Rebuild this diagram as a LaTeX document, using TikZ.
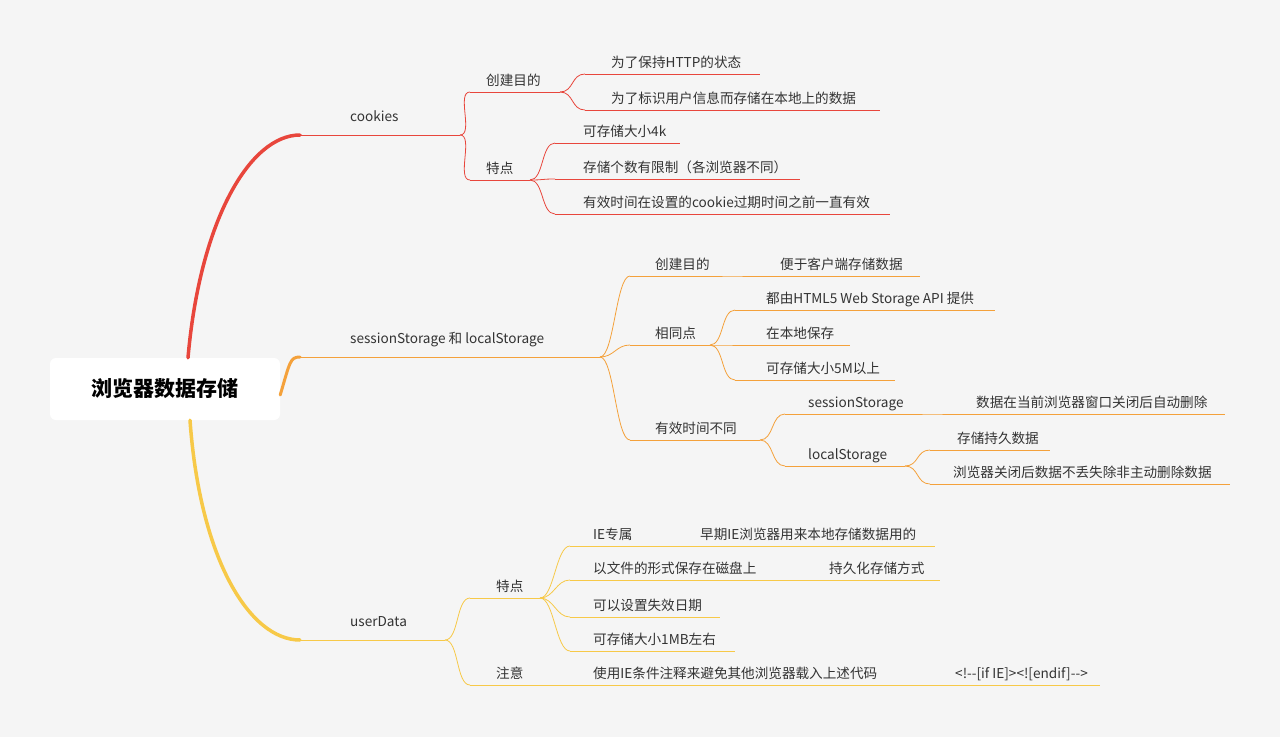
\documentclass[tikz,border=0pt]{standalone}
\usepackage{fontspec}
\setmainfont{Noto Sans CJK SC}
\usetikzlibrary{positioning}
\definecolor{bred}{HTML}{E8463C}
\definecolor{borange}{HTML}{F4A13B}
\definecolor{byellow}{HTML}{F7C948}
\definecolor{txt}{HTML}{333333}
\tikzset{
  lbl/.style={inner sep=0pt,text=txt,font=\fontsize{13.6}{16}\selectfont},
  br/.style={draw=bred,line width=0.8pt},
}
% underline topic: name, x1, x2, y, text x, text
\newcommand\topic[6]{%
  \coordinate (#1-l) at (#2,#4); \coordinate (#1-r) at (#3,#4);
  \draw[br] (#1-l) -- (#1-r);
  \node[lbl,anchor=base west] (#1) at (#5,#4-7) {#6};}
\newcommand\link[2]{\draw[br] (#1-r) .. controls +(14,0) and +(-14,0) .. (#2-l);}
\begin{document}
\begin{tikzpicture}[x=1pt,y=-1pt]
  \fill[white!96!black] (0,0) rectangle (1280,737);
  \useasboundingbox (0,0) rectangle (1280,737);
  \node[fill=white,rounded corners=6pt,minimum width=230pt,minimum height=62pt,
        text=black,font=\fontsize{21}{25}\selectfont\bfseries] (root) at (165,389) {浏览器数据存储};
  % cookies
  \begin{scope}[br/.style={draw=bred,line width=0.8pt}]
    \coordinate (ck-l) at (300,135); \coordinate (ck-r) at (460,135);
    \draw[bred,line width=3.5pt,line cap=round] ([xshift=23]root.north) .. controls (200,220) and (250,135) .. (ck-l);
    \draw[br] (ck-l) -- (ck-r);
    \node[lbl,anchor=base west] (ck) at (350,121) {cookies};
    \topic{ck1}{470}{560}{92}{486}{创建目的}
    \topic{ck11}{585}{760}{74}{611}{为了保持HTTP的状态}
    \topic{ck12}{585}{880}{110}{611}{为了标识用户信息而存储在本地上的数据}
    \topic{ck2}{470}{530}{180}{486}{特点}
    \topic{ck21}{555}{680}{143}{583}{可存储大小4k}
    \topic{ck22}{555}{800}{179}{583}{存储个数有限制（各浏览器不同）}
    \topic{ck23}{555}{890}{214}{583}{有效时间在设置的cookie过期时间之前一直有效}
    \link{ck}{ck1} \link{ck}{ck2}
    \link{ck1}{ck11} \link{ck1}{ck12}
    \link{ck2}{ck21} \link{ck2}{ck22} \link{ck2}{ck23}
  \end{scope}
  % sessionStorage / localStorage
  \begin{scope}[br/.style={draw=borange,line width=0.8pt}]
    \coordinate (ss-l) at (300,357); \coordinate (ss-r) at (600,357);
    \draw[borange,line width=3pt,line cap=round] ([yshift=-6]root.east) .. controls (290,362) and (290,357) .. (ss-l);
    \draw[br] (ss-l) -- (ss-r);
    \node[lbl,anchor=base west] (ss) at (350,343) {sessionStorage 和 localStorage};
    \topic{ss1}{630}{720}{276}{655}{创建目的}
    \topic{ss11}{745}{920}{276}{780}{便于客户端存储数据}
    \topic{ss2}{630}{710}{345}{655}{相同点}
    \topic{ss21}{735}{995}{310}{766}{都由HTML5 Web Storage API 提供}
    \topic{ss22}{735}{850}{345}{766}{在本地保存}
    \topic{ss23}{735}{895}{380}{766}{可存储大小5M以上}
    \topic{ss3}{630}{760}{440}{655}{有效时间不同}
    \topic{ss31}{785}{920}{414}{808}{sessionStorage}
    \topic{ss311}{945}{1225}{414}{976}{数据在当前浏览器窗口关闭后自动删除}
    \topic{ss32}{785}{905}{466}{808}{localStorage}
    \topic{ss321}{930}{1050}{450}{957}{存储持久数据}
    \topic{ss322}{930}{1230}{484}{953}{浏览器关闭后数据不丢失除非主动删除数据}
    \link{ss}{ss1} \link{ss}{ss2} \link{ss}{ss3}
    \link{ss1}{ss11}
    \link{ss2}{ss21} \link{ss2}{ss22} \link{ss2}{ss23}
    \link{ss3}{ss31} \link{ss3}{ss32}
    \link{ss31}{ss311}
    \link{ss32}{ss321} \link{ss32}{ss322}
  \end{scope}
  % userData
  \begin{scope}[br/.style={draw=byellow,line width=0.8pt}]
    \coordinate (ud-l) at (300,640); \coordinate (ud-r) at (445,640);
    \draw[byellow,line width=3.5pt,line cap=round] ([xshift=25]root.south) .. controls (200,560) and (250,640) .. (ud-l);
    \draw[br] (ud-l) -- (ud-r);
    \node[lbl,anchor=base west] (ud) at (350,626) {userData};
    \topic{ud1}{470}{540}{598}{496}{特点}
    \topic{ud11}{570}{680}{546}{593}{IE专属}
    \topic{ud111}{680}{935}{546}{700}{早期IE浏览器用来本地存储数据用的}
    \topic{ud12}{570}{790}{580}{593}{以文件的形式保存在磁盘上}
    \topic{ud121}{790}{940}{580}{829}{持久化存储方式}
    \topic{ud13}{570}{720}{617}{593}{可以设置失效日期}
    \topic{ud14}{570}{735}{651}{593}{可存储大小1MB左右}
    \topic{ud2}{470}{540}{685}{496}{注意}
    \topic{ud21}{570}{910}{685}{593}{使用IE条件注释来避免其他浏览器载入上述代码}
    \topic{ud211}{910}{1100}{685}{955}{<!{-}{-}[if IE]><![endif]{-}{-}>}
    \link{ud}{ud1} \link{ud}{ud2}
    \link{ud1}{ud11} \link{ud1}{ud12} \link{ud1}{ud13} \link{ud1}{ud14}
    \link{ud11}{ud111} \link{ud12}{ud121}
    \link{ud2}{ud21} \link{ud21}{ud211}
  \end{scope}
\end{tikzpicture}
\end{document}
